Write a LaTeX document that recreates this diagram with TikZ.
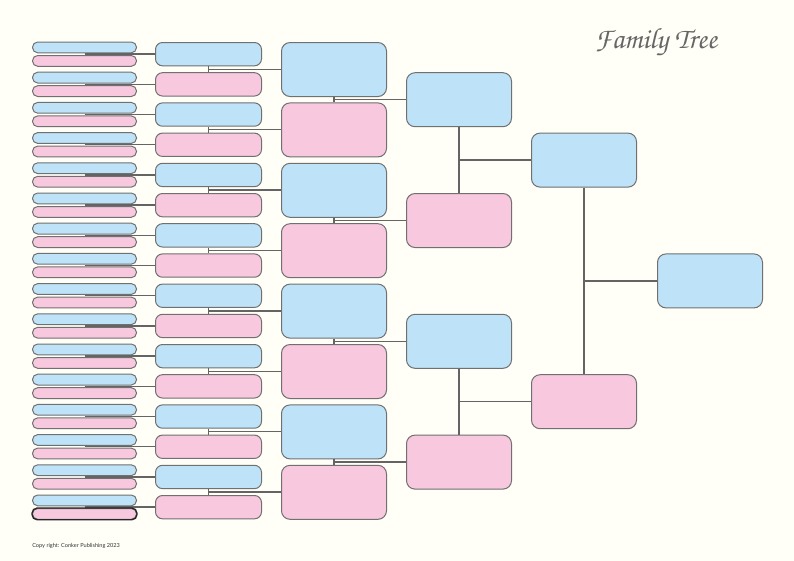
\documentclass[tikz,border=0pt]{standalone}
\usepackage{fontspec}
\setsansfont{Lato}
\newfontfamily\titlehand{texgyrechorus-mediumitalic.otf}
\usetikzlibrary{calc}
\definecolor{bg}{RGB}{255,255,247}
\definecolor{bluebox}{RGB}{190,227,248}
\definecolor{pinkbox}{RGB}{248,200,223}
\definecolor{edge}{RGB}{112,112,112}
\definecolor{conn}{RGB}{100,100,100}
\begin{document}
\begin{tikzpicture}[x=0.75pt,y=-0.75pt,
  box/.style={draw=edge,line width=0.75pt,inner sep=0pt,anchor=north west},
  tinybox/.style={box,minimum width=78pt,minimum height=8.1pt,rounded corners=3.9pt},
  smallbox/.style={box,minimum width=79.5pt,minimum height=17.5pt,rounded corners=5.25pt},
  bigbox/.style={box,minimum width=78.75pt,minimum height=40.5pt,rounded corners=6.4pt},
  link/.style={draw=conn,line width=1.1pt}]
\fill[bg] (0,0) rectangle (794,561);
\useasboundingbox (0,0) rectangle (794,561);
% column 1
\foreach \k in {0,...,15}{
  \node[tinybox,fill=bluebox] (c1b-\k) at (32,{41.5+\k*30.2}) {};
  \node[tinybox,fill=pinkbox] (c1p-\k) at (32,{55+\k*30.2}) {};
}
% column 2
\foreach \i in {0,...,15}{
  \ifodd\i\def\cl{pinkbox}\else\def\cl{bluebox}\fi
  \node[smallbox,fill=\cl] (c2-\i) at (155,{42+\i*30.2}) {};
}
% column 3
\foreach \j in {0,...,7}{
  \ifodd\j\def\cl{pinkbox}\else\def\cl{bluebox}\fi
  \node[bigbox,fill=\cl] (c3-\j) at (281,{42+\j*60.4}) {};
}
% column 4
\foreach \m in {0,...,3}{
  \ifodd\m\def\cl{pinkbox}\else\def\cl{bluebox}\fi
  \node[bigbox,fill=\cl] (c4-\m) at (406,{72.2+\m*120.8}) {};
}
% column 5
\node[bigbox,fill=bluebox] (c5-0) at (531,132.6) {};
\node[bigbox,fill=pinkbox] (c5-1) at (531,374.2) {};
% column 6
\node[bigbox,fill=bluebox] (c6) at (657,253.4) {};
% connectors
\foreach \k in {0,...,15}{
  \coordinate (m1-\k) at ($(c1b-\k.south)!0.5!(c1p-\k.north)$);
  \draw[link] (m1-\k) -- (m1-\k -| c2-\k.west);
}
\foreach \j in {0,...,7}{
  \pgfmathtruncatemacro\a{2*\j}\pgfmathtruncatemacro\b{2*\j+1}
  \draw[link] (c2-\a.south) -- coordinate (m2-\j) (c2-\b.north);
  \draw[link] (m2-\j) -- (m2-\j -| c3-\j.west);
}
\foreach \m in {0,...,3}{
  \pgfmathtruncatemacro\a{2*\m}\pgfmathtruncatemacro\b{2*\m+1}
  \draw[link] (c3-\a.south) -- coordinate (m3-\m) (c3-\b.north);
  \draw[link] (m3-\m) -- (m3-\m -| c4-\m.west);
}
\foreach \n in {0,1}{
  \pgfmathtruncatemacro\a{2*\n}\pgfmathtruncatemacro\b{2*\n+1}
  \draw[link] (c4-\a.south) -- coordinate (m4-\n) (c4-\b.north);
  \draw[link] (m4-\n) -- (m4-\n -| c5-\n.west);
}
\draw[link] (c5-0.south) -- coordinate (m5) (c5-1.north);
\draw[link] (m5) -- (m5 -| c6.west);
% darker outline on last small box
\draw[black!85,line width=1pt,rounded corners=3.9pt] (c1p-15.south west) rectangle (c1p-15.north east);
% texts
\node[font=\titlehand\fontsize{22}{26}\selectfont,text=black!60] (title) at (656,42) {Family Tree};
\node[anchor=base west,inner sep=0pt,font=\sffamily\fontsize{4.2}{5}\selectfont,text=black!80] (copy) at (32,547) {Copy right: Conker Publishing 2023};
\end{tikzpicture}
\end{document}
